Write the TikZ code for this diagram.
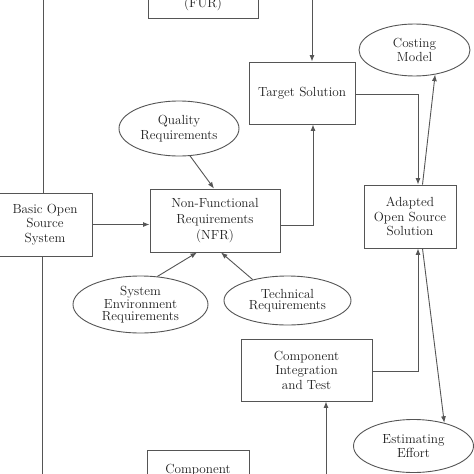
\documentclass[tikz,border=0pt]{standalone}
\usetikzlibrary{shapes.geometric,arrows.meta,calc}
\definecolor{linec}{HTML}{555555}
\definecolor{textc}{HTML}{202020}
\begin{document}
\begin{tikzpicture}[x=1pt,y=-1pt,
  every node/.style={text=textc,font=\fontsize{13.2}{14.5}\selectfont,align=center,line width=0.9pt},
  boxn/.style={draw=linec,rectangle,inner sep=0pt},
  ell/.style={draw=linec,ellipse,inner sep=0pt},
  tight/.style={font=\fontsize{13.2}{11.6}\selectfont},
  conn/.style={draw=linec,line width=0.9pt},
  arr/.style={conn,-{Latex[length=6.5pt,width=5pt]}}]
\useasboundingbox (0,0) rectangle (474,474);
\fill[white] (0,0) rectangle (474,474);
\clip (0,0) rectangle (474,474);
% boxes
\node[boxn,minimum width=110,minimum height=28,anchor=south] (fur) at (203,19) {(FUR)};
\node[boxn,minimum width=106,minimum height=62] (target) at (302,93) {Target Solution};
\node[boxn,minimum width=130,minimum height=63] (nfr) at (215,220.5) {Non-Functional\\[1.5pt]Requirements\\[1.5pt](NFR)};
\node[boxn,minimum width=94,minimum height=63] (basic) at (45,224.5) {Basic Open\\Source\\System};
\node[boxn,minimum width=92,minimum height=63] (adapted) at (410,216.5) {Adapted\\Open Source\\Solution};
\node[boxn,minimum width=131,minimum height=62] (cit) at (306.5,370) {Component\\Integration\\and Test};
\node[boxn,minimum width=102,minimum height=40,anchor=north] (comp) at (198,450) {Component};
% ellipses
\node[ell,minimum width=111,minimum height=52] (costing) at (414.5,50) {Costing\\Model};
\node[ell,minimum width=120,minimum height=55] (quality) at (179,128.5) {Quality\\Requirements};
\node[ell,tight,minimum width=135,minimum height=57] (sysenv) at (140.5,304.5) {System\\Environment\\Requirements};
\node[ell,tight,minimum width=127,minimum height=49] (tech) at (287.5,300.5) {Technical\\Requirements};
\node[ell,minimum width=120,minimum height=53] (est) at (413.5,446) {Estimating\\Effort};
% free ends
\coordinate (lefttop) at (43,0);
\coordinate (leftbot) at (42,474);
\coordinate (topin) at (312,0);
\coordinate (ax) at (418,0);
\coordinate (ax2) at (422.5,0);
\coordinate (tx) at (313,0);
\coordinate (botin) at (326,474);
% connectors
\draw[conn] (lefttop) -- (lefttop |- basic.north);
\draw[conn] (leftbot |- basic.south) -- (leftbot);
\draw[arr] (topin) -- (topin |- target.north);
\draw[arr] ($(target.east)+(0,1)$) -| (ax |- adapted.north);
\draw[arr] (ax2 |- adapted.north) -- (costing.-50);
\draw[arr] (quality.-68) -- ($(nfr.north)+(-1,0)$);
\draw[arr] (basic.east) -- (basic.east -| nfr.west);
\draw[arr] ($(nfr.east)+(0,4.5)$) -| (tx |- target.south);
\draw[arr] (sysenv.59) -- ($(nfr.south)+(-18,0)$);
\draw[arr] (tech.149) -- ($(nfr.south)+(6,0)$);
\draw[arr] ($(cit.east)+(0,1)$) -| (ax |- adapted.south);
\draw[arr] (ax2 |- adapted.south) -- (est.37);
\draw[arr] (botin) -- (botin |- cit.south);
\end{tikzpicture}
\end{document}
